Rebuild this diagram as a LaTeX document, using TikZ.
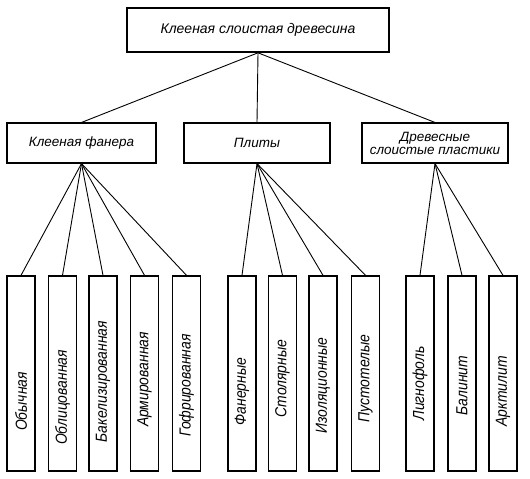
\documentclass[tikz,border=0pt]{standalone}
\usepackage{fontspec}
\setmainfont{Liberation Sans}
\newfontfamily\leaffont{Liberation Sans}[FakeStretch=0.87]
\usepackage{tikz}

\begin{document}
\begin{tikzpicture}[x=1pt,y=-1pt,
  topbox/.style={draw, line width=1.6pt, minimum width=262pt, minimum height=44pt,
    font=\fontsize{14}{16}\selectfont\itshape},
  groupbox/.style={draw, line width=1.1pt, minimum height=40pt, align=center,
    inner sep=2pt, font=\fontsize{13.5}{13}\selectfont\itshape},
  leafbox/.style={draw, line width=1.3pt, minimum width=28pt, minimum height=195pt,
    inner sep=0pt},
  leaftext/.style={rotate=90, inner sep=0pt,
    font=\leaffont\fontsize{16}{18}\selectfont\itshape},
  link/.style={line width=0.9pt}]
  % page size of the reference
  \useasboundingbox (0,0) rectangle (530,479);
  \def\leafy{373.5}

  % top
  \node[topbox] (kls) at (258,30) {Клееная слоистая древесина};

  % groups
  \node[groupbox, minimum width=149pt] (fanera) at (81.5,143) {Клееная фанера};
  \node[groupbox, minimum width=146pt] (plity) at (257,143) {Плиты};
  \node[groupbox, minimum width=146pt] (plastiki) at (435,143)
    {Древесные\\слоистые пластики};

  \draw[link] (kls.south) -- (fanera.north);
  \draw[link] (kls.south) -- (plity.north);
  \draw[link] (kls.south) -- (plastiki.north);

  % plywood kinds
  \node[leafbox] (obych) at (21,\leafy) {};
  \node[leafbox] (oblic) at (62.5,\leafy) {};
  \node[leafbox] (bakel) at (103,\leafy) {};
  \node[leafbox] (armir) at (144.5,\leafy) {};
  \node[leafbox] (gofr) at (186.5,\leafy) {};
  \node[leaftext] at ([yshift=-28pt]obych.center) {Обычная};
  \node[leaftext] at ([yshift=-24pt]oblic.center) {Облицованная};
  \node[leaftext] at ([yshift=-8pt]bakel.center) {Бакелизированная};
  \node[leaftext] at ([yshift=-6pt]armir.center) {Армированная};
  \node[leaftext] at ([yshift=-12pt]gofr.center) {Гофрированная};
  \draw[link] (fanera.south) -- (obych.north);
  \draw[link] (fanera.south) -- (oblic.north);
  \draw[link] (fanera.south) -- (bakel.north);
  \draw[link] (fanera.south) -- (armir.north);
  \draw[link] (fanera.south) -- (gofr.north);

  % boards
  \node[leafbox] (faner) at (242,\leafy) {};
  \node[leafbox] (stol) at (282.5,\leafy) {};
  \node[leafbox] (izol) at (323,\leafy) {};
  \node[leafbox] (pust) at (365.5,\leafy) {};
  \node[leaftext] at ([yshift=-18pt]faner.center) {Фанерные};
  \node[leaftext] at ([yshift=-5pt]stol.center) {Столярные};
  \node[leaftext] at ([yshift=-12pt]izol.center) {Изоляционные};
  \node[leaftext] at ([yshift=-5pt]pust.center) {Пустотелые};
  \draw[link] (plity.south) -- (faner.north);
  \draw[link] (plity.south) -- (stol.north);
  \draw[link] (plity.south) -- (izol.north);
  \draw[link] (plity.south) -- (pust.north);

  % laminated plastics
  \node[leafbox] (lign) at (420,\leafy) {};
  \node[leafbox] (balin) at (462,\leafy) {};
  \node[leafbox] (arkt) at (503,\leafy) {};
  \node[leaftext] at ([yshift=-10pt]lign.center) {Лигнофоль};
  \node[leaftext] at ([yshift=-12pt]balin.center) {Балинит};
  \node[leaftext] at ([yshift=-18pt]arkt.center) {Арктилит};
  \draw[link] (plastiki.south) -- (lign.north);
  \draw[link] (plastiki.south) -- (balin.north);
  \draw[link] (plastiki.south) -- (arkt.north);
\end{tikzpicture}
\end{document}
